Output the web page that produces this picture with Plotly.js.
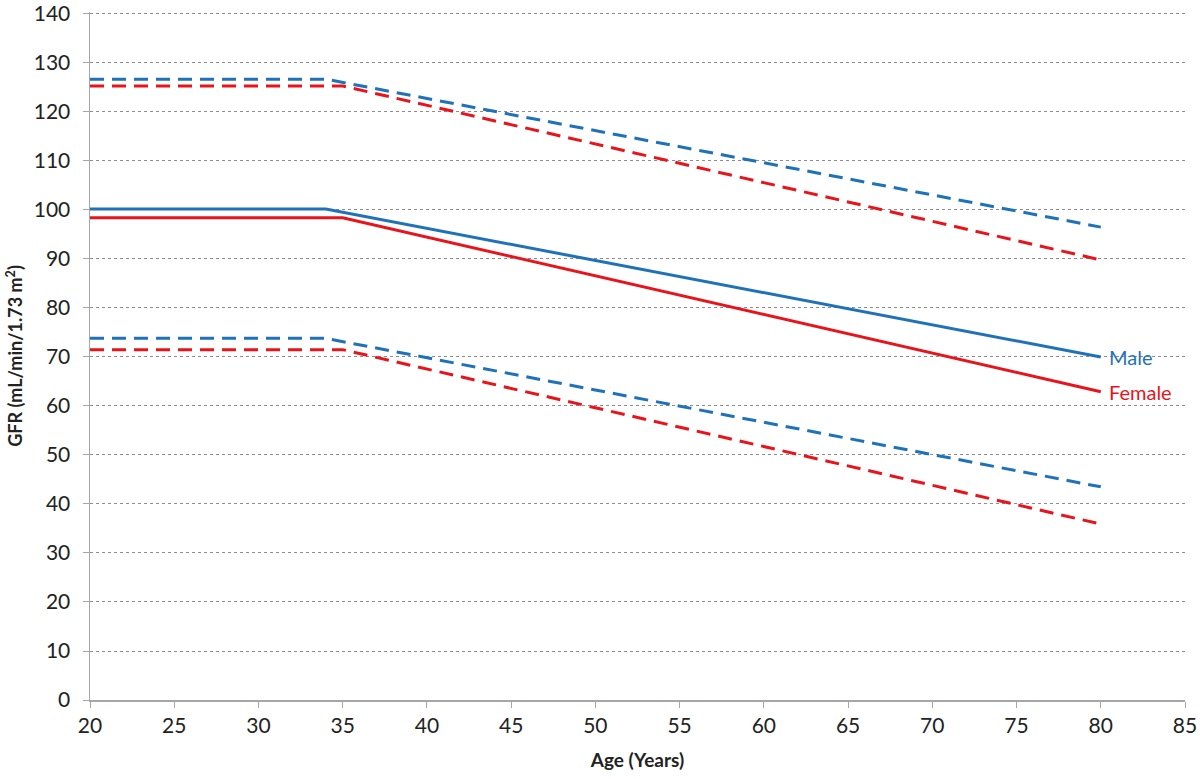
<!DOCTYPE html>
<html><head><meta charset="utf-8">
<script src="https://cdn.plot.ly/plotly-3.0.1.min.js"></script>
<style>html,body{margin:0;padding:0;background:#fff}#chart{width:1200px;height:779px}</style>
</head><body><div id="chart"></div>
<script>
// Ages (x) at start, bend and end points
const maleAges = [20, 34, 80];
const femaleAges = [20, 35, 80];
// GFR values
const maleMedian = [100.2, 100.2, 70.0];
const maleUpper = [126.7, 126.7, 96.5];
const maleLower = [73.8, 73.8, 43.5];
const femaleMedian = [98.4, 98.4, 62.9];
const femaleUpper = [125.3, 125.3, 89.8];
const femaleLower = [71.5, 71.5, 35.9];
const labels = ['Male', 'Female'];
const xTicks = [20,25,30,35,40,45,50,55,60,65,70,75,80,85];
const yTicks = [0,10,20,30,40,50,60,70,80,90,100,110,120,130,140];

const BLUE = '#1F72B8', RED = '#E8141C';
const dash = '14px,8px';
function tr(x, y, color, d) {
  return {x: x, y: y, type: 'scatter', mode: 'lines', line: {color: color, width: 3, dash: d}, hoverinfo: 'skip', showlegend: false, cliponaxis: false};
}
const data = [
  tr(maleAges, maleUpper, BLUE, dash),
  tr(femaleAges, femaleUpper, RED, dash),
  tr(maleAges, maleLower, BLUE, dash),
  tr(femaleAges, femaleLower, RED, dash),
  tr(maleAges, maleMedian, BLUE, 'solid'),
  tr(femaleAges, femaleMedian, RED, 'solid')
];
const font = 'Lato, "Open Sans", sans-serif';
const layout = {
  width: 1200, height: 779,
  margin: {l: 90, r: 15, t: 12, b: 79},
  paper_bgcolor: '#fff', plot_bgcolor: '#fff',
  font: {family: font, size: 20, color: '#222'},
  xaxis: {
    range: [20, 85], tickvals: xTicks, ticktext: xTicks.map(String),
    showgrid: false, zeroline: false, showline: true, linecolor: '#a6a6a6', linewidth: 1.5,
    ticks: 'outside', ticklen: 6, tickcolor: '#a6a6a6', ticklabeloverflow: 'allow',
    tickfont: {family: font, size: 21, color: '#222'},
    title: {text: '<b>Age (Years)</b>', font: {family: font, size: 19, color: '#222'}, standoff: 18}
  },
  yaxis: {
    range: [0, 140.4], tickvals: yTicks, ticktext: yTicks.map(String),
    showgrid: true, gridcolor: '#8c8c8c', griddash: 'dot', gridwidth: 1,
    zeroline: false, showline: true, linecolor: '#a6a6a6', linewidth: 1.5,
    ticks: 'outside', ticklen: 6, tickcolor: '#a6a6a6', ticklabeloverflow: 'allow',
    ticklabelstandoff: 8,
    tickfont: {family: font, size: 21, color: '#222'},
    title: {text: '<b>GFR (mL/min/1.73 m<sup>2</sup>)</b>', font: {family: font, size: 18, color: '#222'}, standoff: 6}
  },
  annotations: [
    {x: 80, y: maleMedian[2], xref: 'x', yref: 'y', text: labels[0], showarrow: false, xanchor: 'left', xshift: 6, font: {family: font, size: 20, color: BLUE}},
    {x: 80, y: femaleMedian[2], xref: 'x', yref: 'y', text: labels[1], showarrow: false, xanchor: 'left', xshift: 6, font: {family: font, size: 20, color: RED}}
  ]
};
Plotly.newPlot('chart', data, layout, {displayModeBar: false, staticPlot: true});
</script></body></html>
